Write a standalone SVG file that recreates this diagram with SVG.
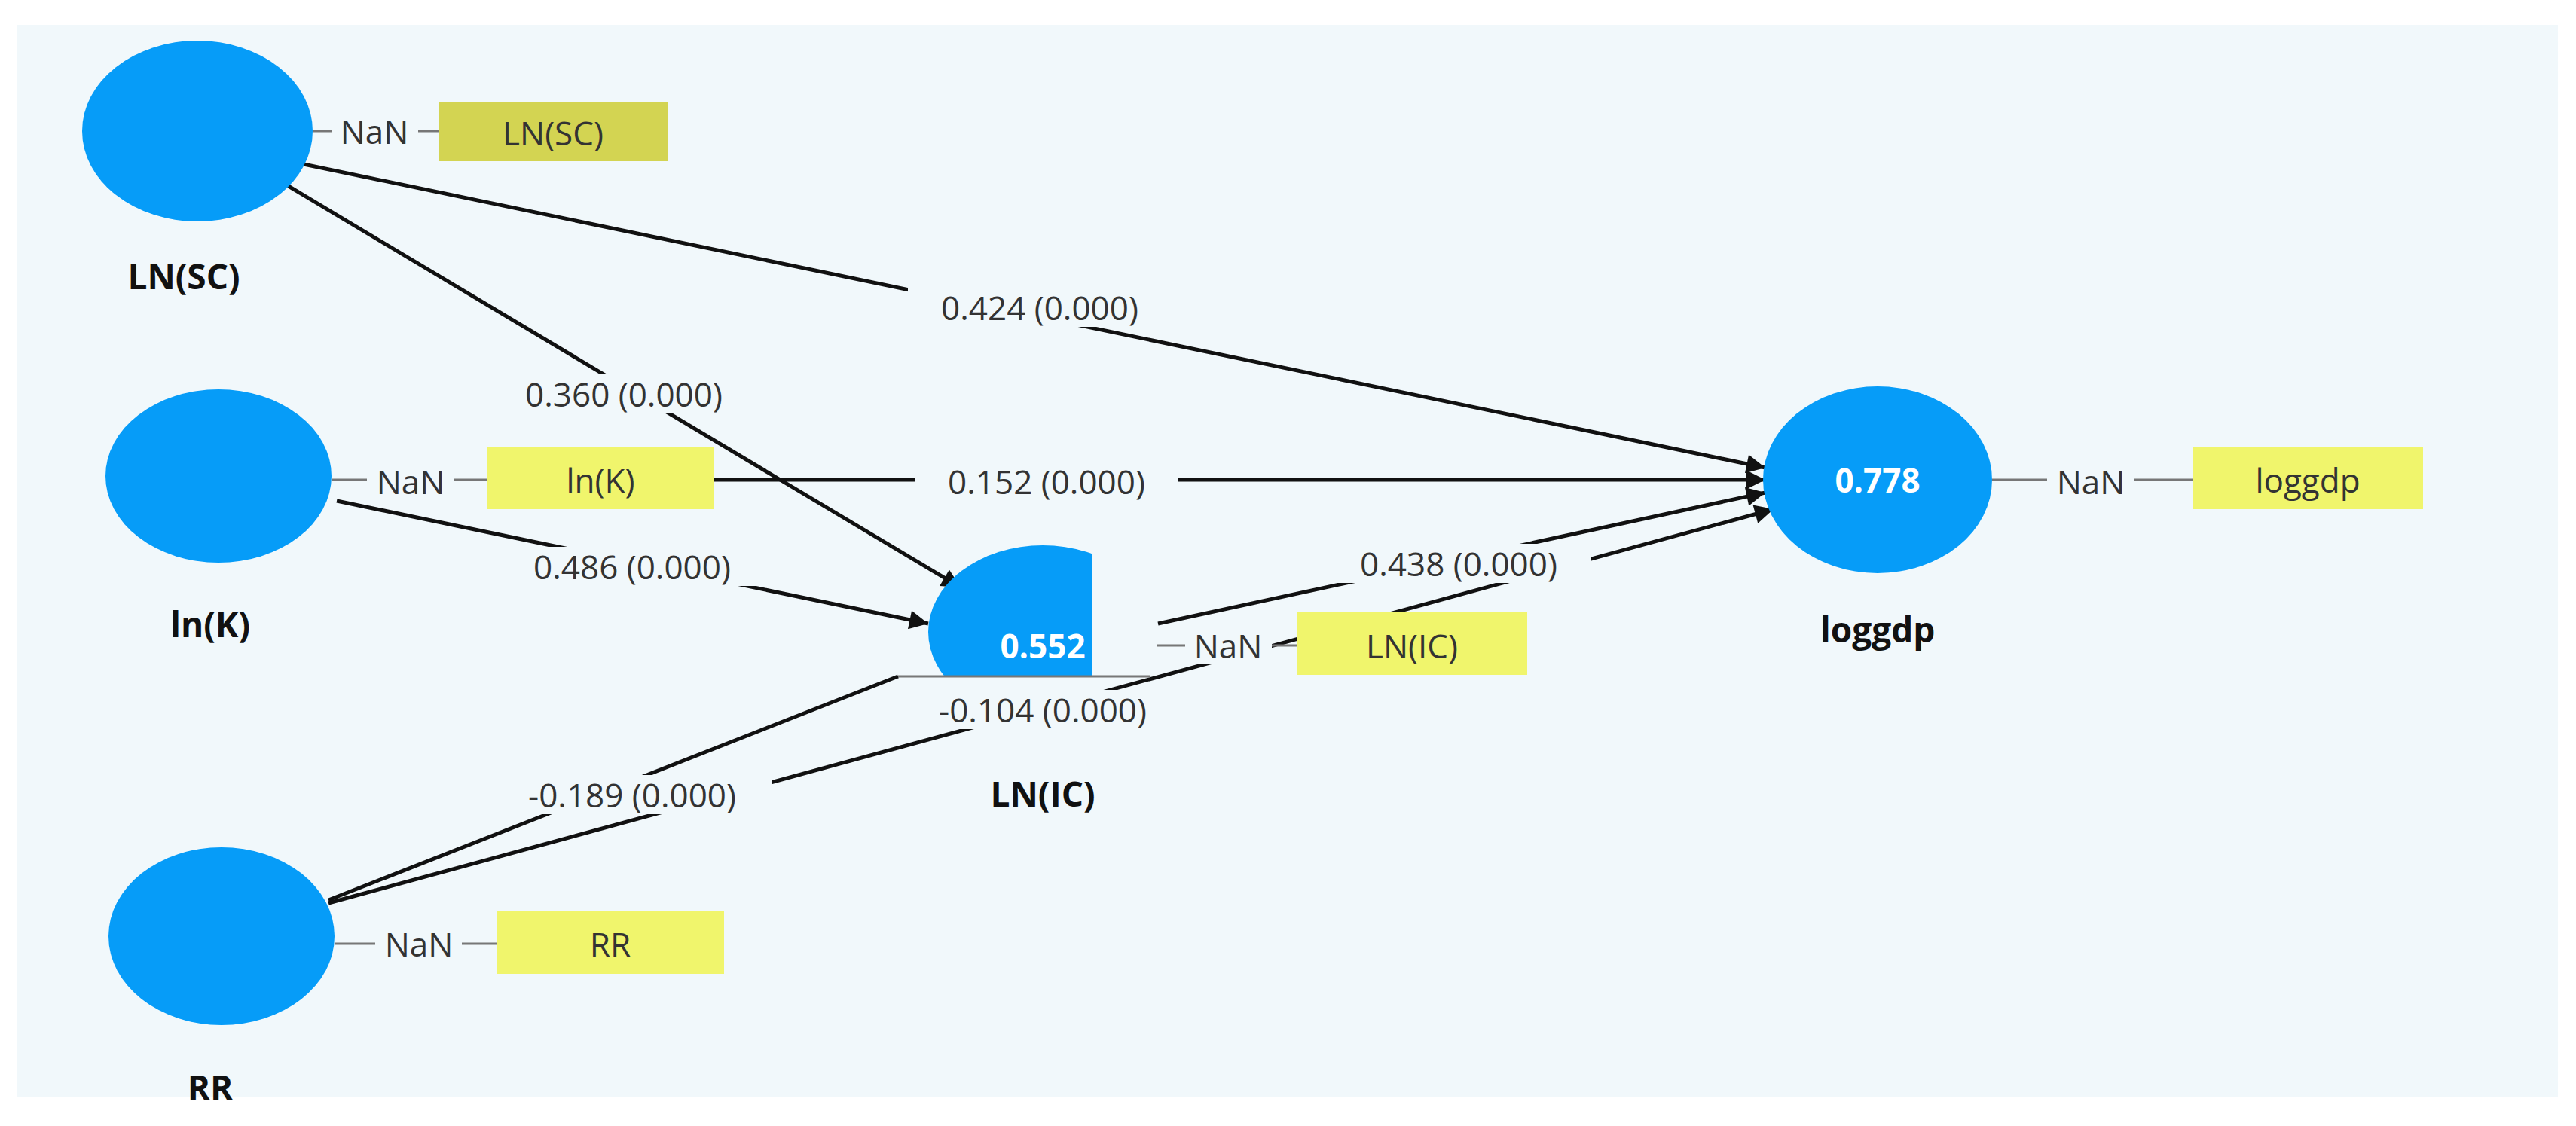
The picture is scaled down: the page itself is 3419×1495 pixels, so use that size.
<svg xmlns="http://www.w3.org/2000/svg" width="3419" height="1495" viewBox="0 0 3419 1495">
<style>
.c{fill:#069cf8}
.b{fill:#f0f56c}
.t{font-family:"Open Sans","Liberation Sans",sans-serif;font-size:44px;fill:#333;text-anchor:middle;dominant-baseline:central}
.n{font-family:"Open Sans","Liberation Sans",sans-serif;font-size:46px;font-weight:bold;fill:#111;text-anchor:middle;dominant-baseline:central}
.v{font-family:"Open Sans","Liberation Sans",sans-serif;font-size:44px;font-weight:bold;fill:#fff;text-anchor:middle;dominant-baseline:central}
.e{stroke:#111;stroke-width:5;fill:none}
.g{stroke:#777;stroke-width:3}
.lb{fill:#f1f8fb}
</style>
<defs>
<marker id="a" viewBox="0 0 10 10" refX="10" refY="5" markerWidth="6" markerHeight="5" orient="auto" markerUnits="strokeWidth"><path d="M0,0L10,5L0,10z" fill="#111"/></marker>
<clipPath id="cl"><rect x="1150" y="700" width="300" height="198"/></clipPath>
</defs>
<rect width="3419" height="1495" fill="#fff"/>
<rect x="22" y="33" width="3373" height="1423" fill="#f1f8fb"/>
<g id="connectors">
<line class="e" x1="403" y1="218" x2="2343" y2="621" marker-end="url(#a)"/>
<line class="e" x1="381" y1="246" x2="1275" y2="780" marker-end="url(#a)"/>
<line class="e" x1="948" y1="637" x2="2343" y2="637" marker-end="url(#a)"/>
<line class="e" x1="447" y1="665" x2="1232" y2="828" marker-end="url(#a)"/>
<line class="e" x1="1537" y1="828" x2="2343" y2="654" marker-end="url(#a)"/>
<line class="e" x1="436" y1="1199" x2="2354" y2="676" marker-end="url(#a)"/>
<line class="e" x1="436" y1="1195" x2="1192" y2="898"/>
<rect class="lb" x="1205" y="382" width="350" height="52"/><text class="t" x="1380" y="408">0.424 (0.000)</text>
<rect class="lb" x="653" y="497" width="350" height="52"/><text class="t" x="828" y="523">0.360 (0.000)</text>
<rect class="lb" x="1214" y="613" width="350" height="52"/><text class="t" x="1389" y="639">0.152 (0.000)</text>
<rect class="lb" x="664" y="726" width="350" height="52"/><text class="t" x="839" y="752">0.486 (0.000)</text>
<rect class="lb" x="1761" y="722" width="350" height="52"/><text class="t" x="1936" y="748">0.438 (0.000)</text>
<rect class="lb" x="1199" y="916" width="370" height="52"/><text class="t" x="1384" y="942">-0.104 (0.000)</text>
<rect class="lb" x="654" y="1029" width="370" height="52"/><text class="t" x="839" y="1055">-0.189 (0.000)</text>
</g>
<g id="LNSC">
<ellipse class="c" cx="262" cy="174" rx="153" ry="120"/>
<text class="n" x="244" y="366">LN(SC)</text>
<line class="g" x1="415" y1="174" x2="582" y2="174"/>
<rect class="lb" x="440" y="150" width="115" height="48"/><text class="t" x="497" y="174">NaN</text>
<rect x="582" y="135" width="305" height="79" fill="#d3d452"/><text class="t" x="734" y="176">LN(SC)</text>
</g>
<g id="lnK">
<ellipse class="c" cx="290" cy="632" rx="150" ry="115"/>
<text class="n" x="279" y="828">ln(K)</text>
<line class="g" x1="440" y1="637" x2="647" y2="637"/>
<rect class="lb" x="487" y="613" width="115" height="48"/><text class="t" x="545" y="639">NaN</text>
<rect class="b" x="647" y="593" width="301" height="83"/><text class="t" x="797" y="637">ln(K)</text>
</g>
<g id="RR">
<ellipse class="c" cx="294" cy="1243" rx="150" ry="118"/>
<text class="n" x="279" y="1443">RR</text>
<line class="g" x1="444" y1="1253" x2="660" y2="1253"/>
<rect class="lb" x="498" y="1229" width="115" height="48"/><text class="t" x="556" y="1253">NaN</text>
<rect class="b" x="660" y="1210" width="301" height="83"/><text class="t" x="810" y="1253">RR</text>
</g>
<g id="LNIC">
<ellipse class="c" cx="1384" cy="839" rx="152" ry="115" clip-path="url(#cl)"/>
<line class="g" x1="1192" y1="898" x2="1526" y2="898"/>
<text class="v" x="1384" y="857">0.552</text>
<text class="n" x="1384" y="1053">LN(IC)</text>
<line class="g" x1="1536" y1="857" x2="1722" y2="857"/>
<rect class="lb" x="1573" y="833" width="115" height="48"/><text class="t" x="1630" y="857">NaN</text>
<rect class="b" x="1722" y="813" width="305" height="83"/><text class="t" x="1874" y="857">LN(IC)</text>
</g>
<g id="loggdp">
<ellipse class="c" cx="2492" cy="637" rx="152" ry="124"/>
<text class="v" x="2492" y="637">0.778</text>
<text class="n" x="2492" y="835">loggdp</text>
<line class="g" x1="2644" y1="637" x2="2910" y2="637"/>
<rect class="lb" x="2717" y="613" width="115" height="48"/><text class="t" x="2775" y="639">NaN</text>
<rect class="b" x="2910" y="593" width="306" height="83"/><text class="t" x="3063" y="637">loggdp</text>
</g>
</svg>
